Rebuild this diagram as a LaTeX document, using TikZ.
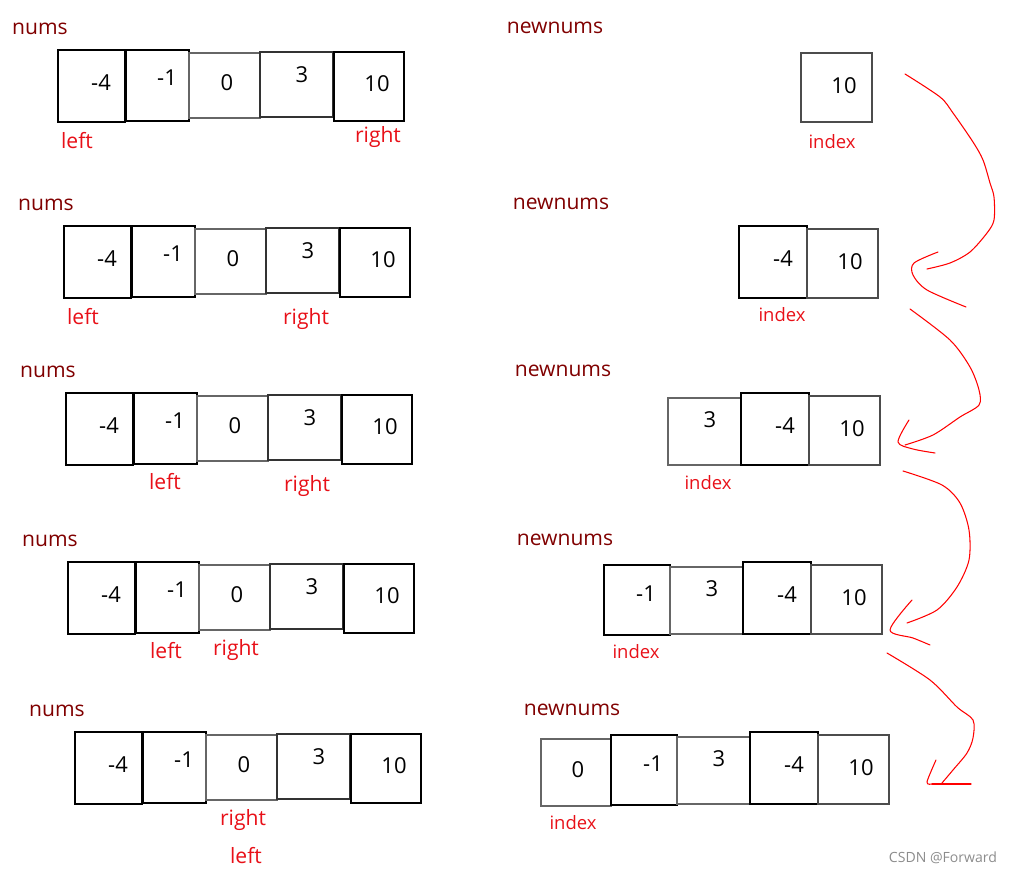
\documentclass[tikz,border=0pt]{standalone}
\usepackage{fontspec}
\setmainfont{Open Sans}
\definecolor{numsred}{RGB}{128,0,0}
\definecolor{markred}{RGB}{232,16,24}
\begin{document}
\begin{tikzpicture}[x=0.02cm,y=-0.02cm,
  cellbox/.style={draw=black,line width=0.75pt,inner sep=0pt},
  num/.style={font=\fontsize{12.5}{14}\selectfont},
  title/.style={color=numsred,font=\fontsize{12}{14}\selectfont},
  ptr/.style={color=markred,font=\fontsize{12}{14}\selectfont},
  idx/.style={color=markred,font=\fontsize{10.5}{12}\selectfont},
  stroke/.style={color=red,line width=0.6pt,line cap=round,line join=round}]
\useasboundingbox (0,0) rectangle (1012,874);
%one row of nums and newnums per step
\foreach \r/\dx/\dy/\lx/\ly/\rx/\ry/\ix/\iy in {1/0/0/77/141/378/137/832/142,
  2/6/176/77/141/300/143/776/139, 3/8/343/157/139/299/143/700/140,
  4/10/512/156/139/226/138/626/140, 5/17/682/229/174/226/138/556/141}{
\begin{scope}[shift={(\dx,\dy)}]
%nums
\node[title] (nums\r) at (40,29) {nums};
\foreach \i/\xa/\ya/\xb/\yb/\c/\v/\tx/\ty in {1/58/50/125/122/black/-4/101/83,
  2/126/50/189/121/black/-1/167/78, 3/189/53/260/118/black!60/0/227/83,
  4/260/52/333/117/black!80/3/302/75, 5/334/52/404/121/black/10/377/84}{
  \node[cellbox,draw=\c,minimum width={(\xb-\xa)*0.02cm},minimum height={(\yb-\ya)*0.02cm}]
    (a\r\i) at ({(\xa+\xb)/2},{(\ya+\yb)/2}) {};
  \node[num] (av\r\i) at (\tx,\ty) {\v};
}
\node[ptr] (left\r) at (\lx,\ly) {left};
\node[ptr] (right\r) at (\rx,\ry) {right};
%newnums
\node[title] (newnums\r) at (555,28) {newnums};
\pgfmathtruncatemacro{\first}{6-\r}
\foreach \i/\xa/\ya/\xb/\yb/\c/\v/\tx/\ty in {1/524/57/594/124/black!60/0/561/88,
  2/594/53/660/123/black/-1/636/82, 3/660/55/733/122/black!60/3/702/77,
  4/733/50/801/122/black/-4/777/83, 5/801/53/872/122/black!70/10/844/86}{
  \ifnum\i<\first\relax\else
  \node[cellbox,draw=\c,minimum width={(\xb-\xa)*0.02cm},minimum height={(\yb-\ya)*0.02cm}]
    (b\r\i) at ({(\xa+\xb)/2},{(\ya+\yb)/2}) {};
  \node[num] (bv\r\i) at (\tx,\ty) {\v};
  \fi
}
\node[idx] (index\r) at (\ix,\iy) {index};
\end{scope}
}
%hand drawn arrows
\draw[stroke] plot[smooth] coordinates {(905,74) (940,97) (953,113) (973,142) (983,160)
  (990,183) (994,197) (994,220) (987,233) (970,252) (950,263) (927,269)};
\draw[stroke] plot[smooth] coordinates {(938,252) (914,263) (913,275) (927,290) (966,307)};
\draw[stroke] plot[smooth] coordinates {(910,309) (950,340) (970,367) (979,390) (979,405)
  (960,417) (933,435) (905,445)};
\draw[stroke] plot[smooth] coordinates {(909,420) (898,442) (913,449) (935,453)};
\draw[stroke] plot[smooth] coordinates {(903,471) (942,485) (960,503) (969,530) (969,560)
  (957,587) (937,610) (907,623)};
\draw[stroke] plot[smooth] coordinates {(912,600) (890,630) (913,638) (930,645)};
\draw[stroke] plot[smooth] coordinates {(887,653) (930,680) (957,707) (973,720) (973,738)
  (967,753) (953,770) (942,783)};
\draw[stroke] plot[smooth] coordinates {(936,760) (927,782) (932,784)};
\draw[stroke] (932,784) -- (971,784);
%watermark
\node[color=black!45,font=\fontsize{8}{10}\selectfont] (mark) at (943,858) {CSDN @Forward};
\end{tikzpicture}
\end{document}
